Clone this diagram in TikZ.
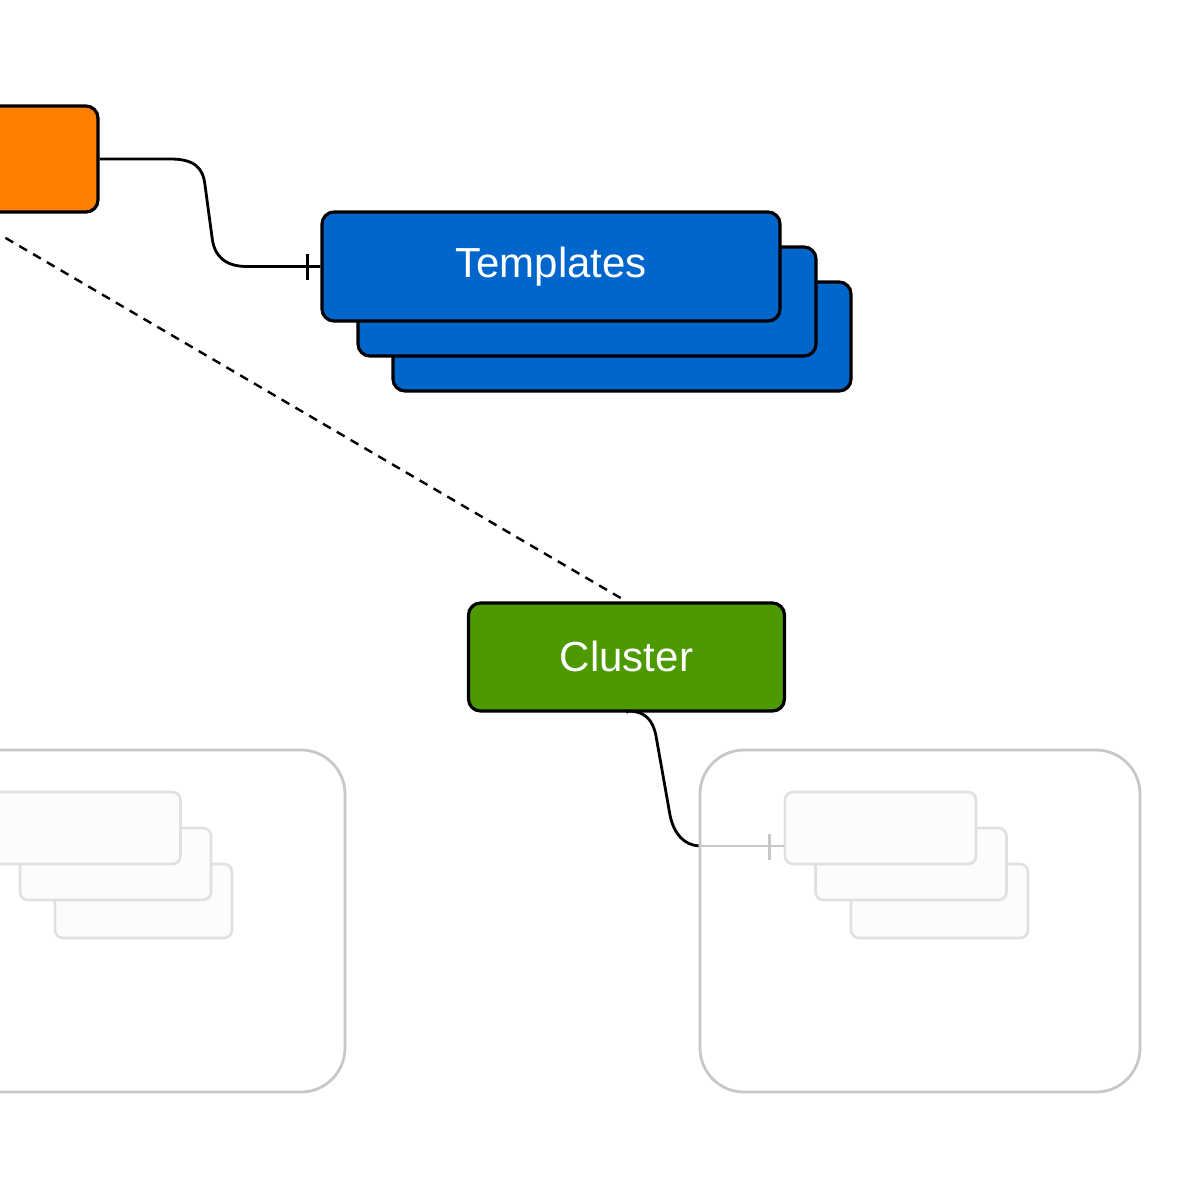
\documentclass[tikz,border=0pt]{standalone}
\usepackage{fontspec}
\setmainfont{Liberation Sans}
\usetikzlibrary{shadows,calc}
\definecolor{orangeC}{RGB}{255,128,0}
\definecolor{blueC}{RGB}{0,102,204}
\definecolor{greenC}{RGB}{77,153,0}
\definecolor{contC}{RGB}{200,200,200}
\definecolor{fadeC}{RGB}{224,224,224}
\definecolor{fadeF}{RGB}{252,252,252}
\tikzset{
  solidbox/.style={draw=black, line width=1.6pt, rounded corners=6pt, inner sep=0pt,
    text=white, font=\fontsize{21}{25}\selectfont,
    drop shadow={shadow xshift=0.6pt, shadow yshift=-0.6pt, fill=black, opacity=0.25}},
  container/.style={draw=contC, line width=1.4pt, fill=white, rounded corners=22pt, inner sep=0pt},
  fadebox/.style={draw=fadeC, line width=1.3pt, fill=fadeF, rounded corners=4pt, inner sep=0pt},
  conn/.style={draw=black, line width=1.4pt},
  fadeconn/.style={draw=contC, line width=1.3pt},
  dashconn/.style={draw=black, line width=1.2pt, dash pattern=on 4.5pt off 3.5pt}
}
\begin{document}
\begin{tikzpicture}[x=0.5pt, y=-0.5pt]
\useasboundingbox (0,0) rectangle (1200,1200);
\clip (0,0) rectangle (1200,1200);
\fill[white] (0,0) rectangle (1200,1200);

% containers
\node[container, minimum width=220pt, minimum height=171pt] (lc) at (125,921) {};
\node[container, minimum width=220pt, minimum height=171pt] (rc) at (920,921) {};

% faded stacks left
\node[fadebox, minimum width=88.5pt, minimum height=37pt] (lf3) at (143.5,901) {};
\node[fadebox, minimum width=95.5pt, minimum height=36pt] (lf2) at (115.5,864) {};
\node[fadebox, minimum width=95.5pt, minimum height=36pt] (lf1) at (85,828) {};
% faded stacks right
\node[fadebox, minimum width=88.5pt, minimum height=37pt] (rf3) at (939.5,901) {};
\node[fadebox, minimum width=95.5pt, minimum height=36pt] (rf2) at (911,864) {};
\node[fadebox, minimum width=95.5pt, minimum height=36pt] (rf1) at (880.5,828) {};

% orange source
\node[solidbox, fill=orangeC, minimum width=134pt, minimum height=53pt] (src) at (-36,159) {};

% templates stack
\node[solidbox, fill=blueC, minimum width=229pt, minimum height=54.5pt] (tpl3) at (622,336.5) {};
\node[solidbox, fill=blueC, minimum width=229pt, minimum height=54.5pt] (tpl2) at (587,301.5) {};
\node[solidbox, fill=blueC, minimum width=229pt, minimum height=54.5pt] (tpl) at (551,266.5) {Templates};

% cluster
\node[solidbox, fill=greenC, minimum width=158pt, minimum height=54pt] (cl) at (626.5,657) {\raisebox{1pt}{Cluster}};

% dashed relation
\draw[dashconn] (src.south) -- (cl.north);

% source -> templates
\coordinate (tplin) at (tpl.west);
\draw[conn] (src.east) -- (170,159) .. controls (195,159) and (203,168) .. (205,185)
  -- (212,237) .. controls (214,256) and (225,266.5) .. (247,266.5) -- (tplin);
\draw[conn] ([xshift=-6.5pt]tplin) ++(0,-13) -- ++(0,26);

% cluster -> faded stack
\coordinate (rin) at ($(rf1.south west)!0.26!(rf1.north west)$);
\coordinate (rcedge) at (rc.west |- rin);
\draw[conn] (cl.south) -- (628,711) .. controls (645,711) and (653,720) .. (656,736)
  -- (670,815) .. controls (674,835) and (685,845) .. (rcedge);
\draw[fadeconn] (rcedge) -- (rin);
\draw[fadeconn] ([xshift=-7pt]rin) ++(0,-12) -- ++(0,26);
\end{tikzpicture}
\end{document}
